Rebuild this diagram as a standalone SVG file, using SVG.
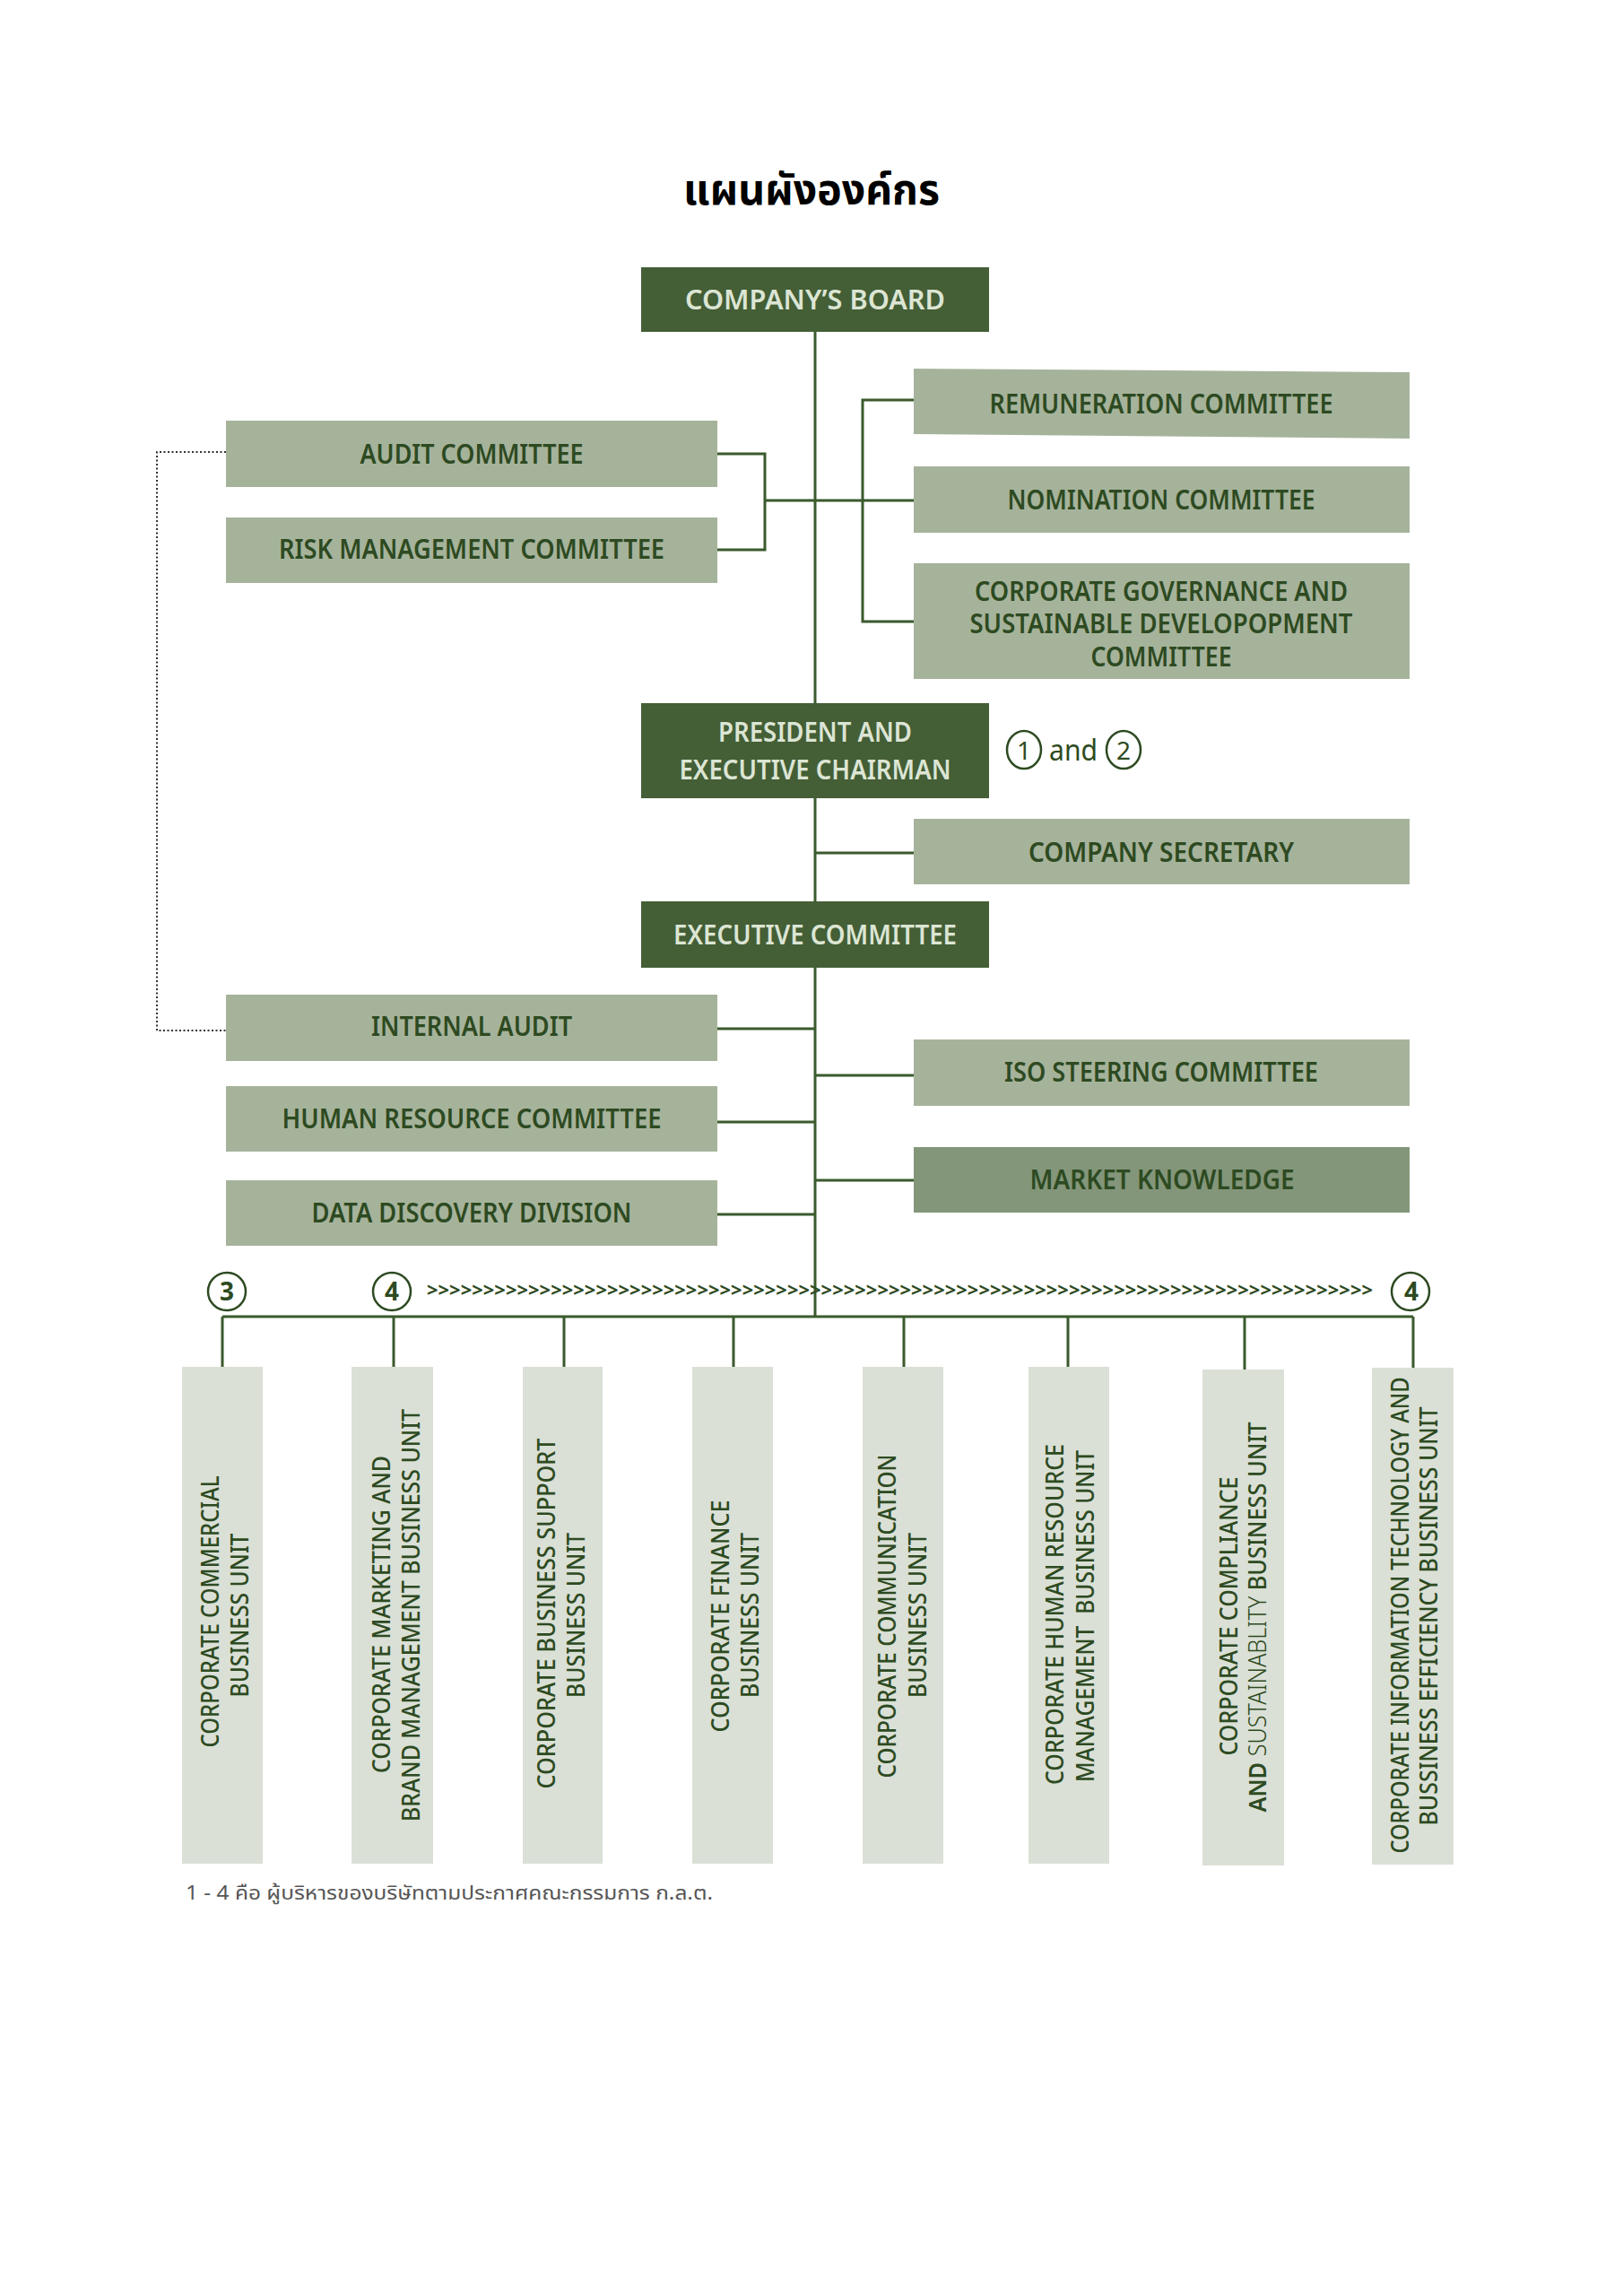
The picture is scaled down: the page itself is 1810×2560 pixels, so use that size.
<svg xmlns="http://www.w3.org/2000/svg" width="1810" height="2560" viewBox="0 0 1810 2560">
<style>
.dk{fill:#445e36}
.lg{fill:#a6b39b}
.mk{fill:#83967a}
.cb{fill:#dae0d6}
.lbl{font-family:"Noto Sans","Open Sans",sans-serif;font-weight:600;font-size:30px;fill:#2d4a21;text-anchor:middle}
.lt{fill:#dce5d4}
.col{font-family:"Noto Sans","Open Sans",sans-serif;font-weight:500;font-size:27px;fill:#2d4a21;text-anchor:middle}
.ln{stroke:#3b5a2d;stroke-width:3;fill:none}
.circ{fill:none;stroke:#2d4a21;stroke-width:2.5}
.num{font-family:"Noto Sans","Open Sans",sans-serif;font-weight:700;font-size:28px;fill:#2d4a21;text-anchor:middle}
.thai{font-family:"Noto Sans","Noto Sans Thai","Tahoma","DejaVu Sans",sans-serif}
</style>
<rect width="1810" height="2560" fill="#ffffff"/>

<text id="title" class="thai" x="905" y="228" font-size="48" font-weight="700" fill="#000" text-anchor="middle" textLength="286" lengthAdjust="spacingAndGlyphs">แผนผังองค์กร</text>

<g id="connectors">
  <path class="ln" d="M909 370 V784 M909 890 V1005 M909 1079 V1468"/>
  <path class="ln" d="M800 506 H853 V613 H800 M853 558 H1019 M1019 446 H962 V693 H1019"/>
  <path class="ln" d="M909 951 H1019"/>
  <path class="ln" d="M800 1147 H909 M800 1251 H909 M800 1354 H909 M909 1199 H1019 M909 1316 H1019"/>
  <path class="ln" stroke-width="4" d="M248 1468 H1576"/>
  <path class="ln" d="M248 1468 V1524 M439 1468 V1524 M629 1468 V1524 M818 1468 V1524 M1008 1468 V1524 M1191 1468 V1524 M1388 1468 V1527 M1576 1468 V1525"/>
  <path d="M252 504 H175 V1149 H252" fill="none" stroke="#333" stroke-width="2" stroke-dasharray="2 2.5"/>
  <text x="476" y="1446" font-family="Noto Sans, sans-serif" font-weight="700" font-size="22" fill="#2d4a21" textLength="1055" lengthAdjust="spacingAndGlyphs">&gt;&gt;&gt;&gt;&gt;&gt;&gt;&gt;&gt;&gt;&gt;&gt;&gt;&gt;&gt;&gt;&gt;&gt;&gt;&gt;&gt;&gt;&gt;&gt;&gt;&gt;&gt;&gt;&gt;&gt;&gt;&gt;&gt;&gt;&gt;&gt;&gt;&gt;&gt;&gt;&gt;&gt;&gt;&gt;&gt;&gt;&gt;&gt;&gt;&gt;&gt;&gt;&gt;&gt;&gt;&gt;&gt;&gt;&gt;&gt;&gt;&gt;&gt;&gt;&gt;&gt;&gt;&gt;&gt;&gt;&gt;&gt;&gt;&gt;&gt;&gt;&gt;&gt;&gt;&gt;&gt;&gt;&gt;&gt;</text>
</g>

<g id="board"><rect class="dk" x="715" y="298" width="388" height="72"/><text class="lbl lt" x="909" y="345" font-size="30" textLength="290" lengthAdjust="spacingAndGlyphs">COMPANY’S BOARD</text></g>

<g id="audit-committee"><rect class="lg" x="252" y="469" width="548" height="74"/><text class="lbl" x="526" y="517" textLength="249" lengthAdjust="spacingAndGlyphs">AUDIT COMMITTEE</text></g>
<g id="risk-committee"><rect class="lg" x="252" y="577" width="548" height="73"/><text class="lbl" x="526" y="623" textLength="430" lengthAdjust="spacingAndGlyphs">RISK MANAGEMENT COMMITTEE</text></g>

<g id="remuneration"><polygon class="lg" points="1019,411 1572,415 1572,489 1019,484"/><text class="lbl" x="1295" y="461" textLength="383" lengthAdjust="spacingAndGlyphs">REMUNERATION COMMITTEE</text></g>
<g id="nomination"><rect class="lg" x="1019" y="520" width="553" height="74"/><text class="lbl" x="1295" y="568" textLength="343" lengthAdjust="spacingAndGlyphs">NOMINATION COMMITTEE</text></g>
<g id="governance"><rect class="lg" x="1019" y="628" width="553" height="129"/>
  <text class="lbl" x="1295" y="670" textLength="416" lengthAdjust="spacingAndGlyphs">CORPORATE GOVERNANCE AND</text>
  <text class="lbl" x="1295" y="706" textLength="427" lengthAdjust="spacingAndGlyphs">SUSTAINABLE DEVELOPOPMENT</text>
  <text class="lbl" x="1295" y="743" textLength="157" lengthAdjust="spacingAndGlyphs">COMMITTEE</text></g>

<g id="president"><rect class="dk" x="715" y="784" width="388" height="106"/>
  <text class="lbl lt" x="909" y="827" textLength="216" lengthAdjust="spacingAndGlyphs">PRESIDENT AND</text>
  <text class="lbl lt" x="909" y="869" textLength="303" lengthAdjust="spacingAndGlyphs">EXECUTIVE CHAIRMAN</text></g>
<g id="note-1-2">
  <ellipse class="circ" cx="1142" cy="836" rx="19" ry="21" stroke-width="2"/>
  <text x="1142" y="847" font-family="Noto Sans, sans-serif" font-size="28" fill="#2d4a21" text-anchor="middle">1</text>
  <text x="1197" y="848" font-family="Noto Sans, sans-serif" font-size="32" fill="#2d4a21" text-anchor="middle" textLength="54" lengthAdjust="spacingAndGlyphs">and</text>
  <ellipse class="circ" cx="1253" cy="836" rx="19" ry="21" stroke-width="2"/>
  <text x="1253" y="847" font-family="Noto Sans, sans-serif" font-size="28" fill="#2d4a21" text-anchor="middle">2</text>
</g>

<g id="secretary"><rect class="lg" x="1019" y="913" width="553" height="73"/><text class="lbl" x="1295" y="961" textLength="296" lengthAdjust="spacingAndGlyphs">COMPANY SECRETARY</text></g>
<g id="executive-committee"><rect class="dk" x="715" y="1005" width="388" height="74"/><text class="lbl lt" x="909" y="1053" textLength="316" lengthAdjust="spacingAndGlyphs">EXECUTIVE COMMITTEE</text></g>

<g id="internal-audit"><rect class="lg" x="252" y="1109" width="548" height="74"/><text class="lbl" x="526" y="1155" textLength="224" lengthAdjust="spacingAndGlyphs">INTERNAL AUDIT</text></g>
<g id="hr-committee"><rect class="lg" x="252" y="1211" width="548" height="73"/><text class="lbl" x="526" y="1258" textLength="423" lengthAdjust="spacingAndGlyphs">HUMAN RESOURCE COMMITTEE</text></g>
<g id="data-discovery"><rect class="lg" x="252" y="1316" width="548" height="73"/><text class="lbl" x="526" y="1363" textLength="357" lengthAdjust="spacingAndGlyphs">DATA DISCOVERY DIVISION</text></g>
<g id="iso"><rect class="lg" x="1019" y="1159" width="553" height="74"/><text class="lbl" x="1295" y="1206" textLength="350" lengthAdjust="spacingAndGlyphs">ISO STEERING COMMITTEE</text></g>
<g id="market-knowledge"><rect class="mk" x="1019" y="1279" width="553" height="73"/><text class="lbl" x="1296" y="1326" textLength="295" lengthAdjust="spacingAndGlyphs">MARKET KNOWLEDGE</text></g>

<g id="marks">
  <circle class="circ" cx="253" cy="1440" r="21"/><text class="num" x="253" y="1450">3</text>
  <circle class="circ" cx="437" cy="1440" r="21"/><text class="num" x="437" y="1450">4</text>
  <circle class="circ" cx="1573" cy="1440" r="21"/><text class="num" x="1574" y="1450">4</text>
</g>

<g id="bu-commercial"><rect class="cb" x="203" y="1524" width="90" height="554"/>
  <text class="col" transform="translate(244,1797) rotate(-90)" textLength="303" lengthAdjust="spacingAndGlyphs">CORPORATE COMMERCIAL</text>
  <text class="col" transform="translate(277,1801) rotate(-90)" textLength="183" lengthAdjust="spacingAndGlyphs">BUSINESS UNIT</text></g>
<g id="bu-marketing"><rect class="cb" x="392" y="1524" width="91" height="554"/>
  <text class="col" transform="translate(435,1800) rotate(-90)" textLength="354" lengthAdjust="spacingAndGlyphs">CORPORATE MARKETING AND</text>
  <text class="col" transform="translate(468,1801) rotate(-90)" textLength="460" lengthAdjust="spacingAndGlyphs">BRAND MANAGEMENT BUSINESS UNIT</text></g>
<g id="bu-support"><rect class="cb" x="583" y="1524" width="89" height="554"/>
  <text class="col" transform="translate(619,1799) rotate(-90)" textLength="391" lengthAdjust="spacingAndGlyphs">CORPORATE BUSINESS SUPPORT</text>
  <text class="col" transform="translate(652,1801) rotate(-90)" textLength="184" lengthAdjust="spacingAndGlyphs">BUSINESS UNIT</text></g>
<g id="bu-finance"><rect class="cb" x="772" y="1524" width="90" height="554"/>
  <text class="col" transform="translate(813,1802) rotate(-90)" textLength="259" lengthAdjust="spacingAndGlyphs">CORPORATE FINANCE</text>
  <text class="col" transform="translate(846,1801) rotate(-90)" textLength="184" lengthAdjust="spacingAndGlyphs">BUSINESS UNIT</text></g>
<g id="bu-communication"><rect class="cb" x="962" y="1524" width="90" height="554"/>
  <text class="col" transform="translate(999,1802) rotate(-90)" textLength="361" lengthAdjust="spacingAndGlyphs">CORPORATE COMMUNICATION</text>
  <text class="col" transform="translate(1033,1801) rotate(-90)" textLength="184" lengthAdjust="spacingAndGlyphs">BUSINESS UNIT</text></g>
<g id="bu-hr"><rect class="cb" x="1147" y="1524" width="90" height="554"/>
  <text class="col" transform="translate(1186,1800) rotate(-90)" textLength="380" lengthAdjust="spacingAndGlyphs">CORPORATE HUMAN RESOURCE</text>
  <text class="col" transform="translate(1220,1802) rotate(-90)" style="white-space:pre" textLength="370" lengthAdjust="spacingAndGlyphs">MANAGEMENT  BUSINESS UNIT</text></g>
<g id="bu-compliance"><rect class="cb" x="1341" y="1527" width="91" height="553"/>
  <text class="col" transform="translate(1380,1802) rotate(-90)" textLength="311" lengthAdjust="spacingAndGlyphs">CORPORATE COMPLIANCE</text>
  <text class="col" transform="translate(1412,1803) rotate(-90)" textLength="435" lengthAdjust="spacingAndGlyphs"><tspan font-weight="600">AND </tspan><tspan font-weight="300">SUSTAINABLITY</tspan><tspan> BUSINESS UNIT</tspan></text></g>
<g id="bu-it"><rect class="cb" x="1530" y="1525" width="91" height="554"/>
  <text class="col" transform="translate(1571,1801) rotate(-90)" textLength="531" lengthAdjust="spacingAndGlyphs">CORPORATE INFORMATION TECHNOLOGY AND</text>
  <text class="col" transform="translate(1603,1802) rotate(-90)" textLength="467" lengthAdjust="spacingAndGlyphs">BUSSINESS EFFICIENCY BUSINESS UNIT</text></g>

<text id="footnote" class="thai" x="207" y="2118" font-size="21" fill="#555" textLength="588" lengthAdjust="spacingAndGlyphs">1 - 4 คือ ผู้บริหารของบริษัทตามประกาศคณะกรรมการ ก.ล.ต.</text>
</svg>
